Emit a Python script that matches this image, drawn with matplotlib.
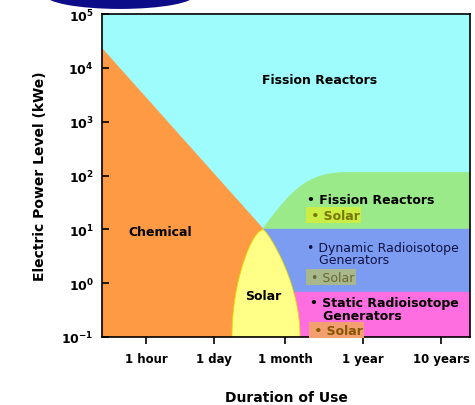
import numpy as np
import matplotlib.pyplot as plt
from matplotlib.patches import Polygon, Ellipse

# data
duration_labels = ["1 hour", "1 day", "1 month", "1 year", "10 years"]
power_decades = [-1, 0, 1, 2, 3, 4, 5]
chemical_top = 4.35      # log10 kWe at 1 hour
crossover = 1.0          # log10 kWe where chemical / solar / nuclear meet
green_top = 2.05
pink_top = -0.17

fig = plt.figure(figsize=(4.75, 4.06), dpi=100)
ax = fig.add_axes([102/475, 68/406, 368/475, 323/406])
ax.set_xlim(0, 368)
ax.set_ylim(-1, 5)

tick_x = [44, 112, 183, 261, 339]
xc = 161  # crossover x position

ax.add_patch(Polygon([(0, -1), (368, -1), (368, 5), (0, 5)], color="#9ffcfc", zorder=0))
ax.add_patch(Polygon([(0, chemical_top), (xc, crossover), (205, -1), (0, -1)], color="#ff9a44", zorder=1))

# green band with curved left edge (cubic bezier)
t = np.linspace(0, 1, 50)[:, None]
P = np.array([[xc, crossover], [xc + 30, 1.75], [xc + 45, green_top], [xc + 85, green_top]])
B = ((1 - t) ** 3) * P[0] + 3 * ((1 - t) ** 2) * t * P[1] + 3 * (1 - t) * t ** 2 * P[2] + t ** 3 * P[3]
gpts = [tuple(p) for p in B] + [(368, green_top), (368, crossover)]
ax.add_patch(Polygon(gpts, color="#9aea8a", zorder=1))
# blue and pink bands
ax.add_patch(Polygon([(xc, crossover), (368, crossover), (368, pink_top), (190, pink_top)], color="#7b9cf0", zorder=1))
ax.add_patch(Polygon([(190, pink_top), (368, pink_top), (368, -1), (190, -1)], color="#ff6ee0", zorder=1))

# solar teardrop
s = np.linspace(0, 1, 40)
lx = xc - 31 * np.sin(s * np.pi / 2) ** 0.6
ly = crossover - (crossover + 1) * s
rx = xc + 37 * np.sin(s * np.pi / 2) ** 0.8
ypts = list(zip(lx, ly)) + list(zip(rx[::-1], ly[::-1]))
ax.add_patch(Polygon(ypts, facecolor="#ffff88", edgecolor="#e8d800", lw=0.6, zorder=2))

bold = dict(fontweight="bold", fontsize=9, color="black", zorder=5)
ax.text(218, 3.79, "Fission Reactors", ha="center", va="center", **bold)
ax.text(58, 0.96, "Chemical", ha="center", va="center", **bold)
ax.text(161, -0.22, "Solar", ha="center", va="center", **bold)

ax.text(205, 1.55, "• Fission Reactors", va="center", **bold)
ax.text(205, 1.26, " • Solar", va="center", fontsize=9, fontweight="bold", color="#777700",
        bbox=dict(facecolor="#ccee44", edgecolor="none", pad=1), zorder=5)
ax.text(205, 0.55, "• Dynamic Radioisotope\n   Generators", va="center", fontsize=9,
        color="#111144", linespacing=0.95, zorder=5)
ax.text(205, 0.11, " • Solar", va="center", fontsize=9, color="#666633",
        bbox=dict(facecolor="#a8b88c", edgecolor="none", pad=1), zorder=5)
ax.text(208, -0.48, "• Static Radioisotope\n   Generators", va="center", linespacing=0.95, **bold)
ax.text(208, -0.87, " • Solar", va="center", fontsize=9, fontweight="bold", color="#885500",
        bbox=dict(facecolor="#f3a070", edgecolor="none", pad=1), zorder=5)

ax.set_xticks(tick_x)
ax.set_xticklabels(duration_labels, fontsize=8.5, fontweight="bold")
ax.set_yticks(power_decades)
ax.set_yticklabels([r"$\mathbf{10^{%d}}$" % p for p in power_decades], fontsize=9)
ax.tick_params(direction="in", length=5, width=1.2, pad=6)
ax.tick_params(axis="x", direction="out", length=5)
for sp in ax.spines.values():
    sp.set_linewidth(1.2)
ax.set_xlabel("Duration of Use", fontsize=10, fontweight="bold", labelpad=18)
ax.set_ylabel("Electric Power Level (kWe)", fontsize=10, fontweight="bold", labelpad=10)

# clipped decoration at top of the original slide
fig.patches.append(Ellipse((120/475, 1.01), 150/475, 28/406, transform=fig.transFigure,
                           facecolor="#0c0c88", edgecolor="none", figure=fig, zorder=-1))

fig.savefig("out.png", dpi=100)
